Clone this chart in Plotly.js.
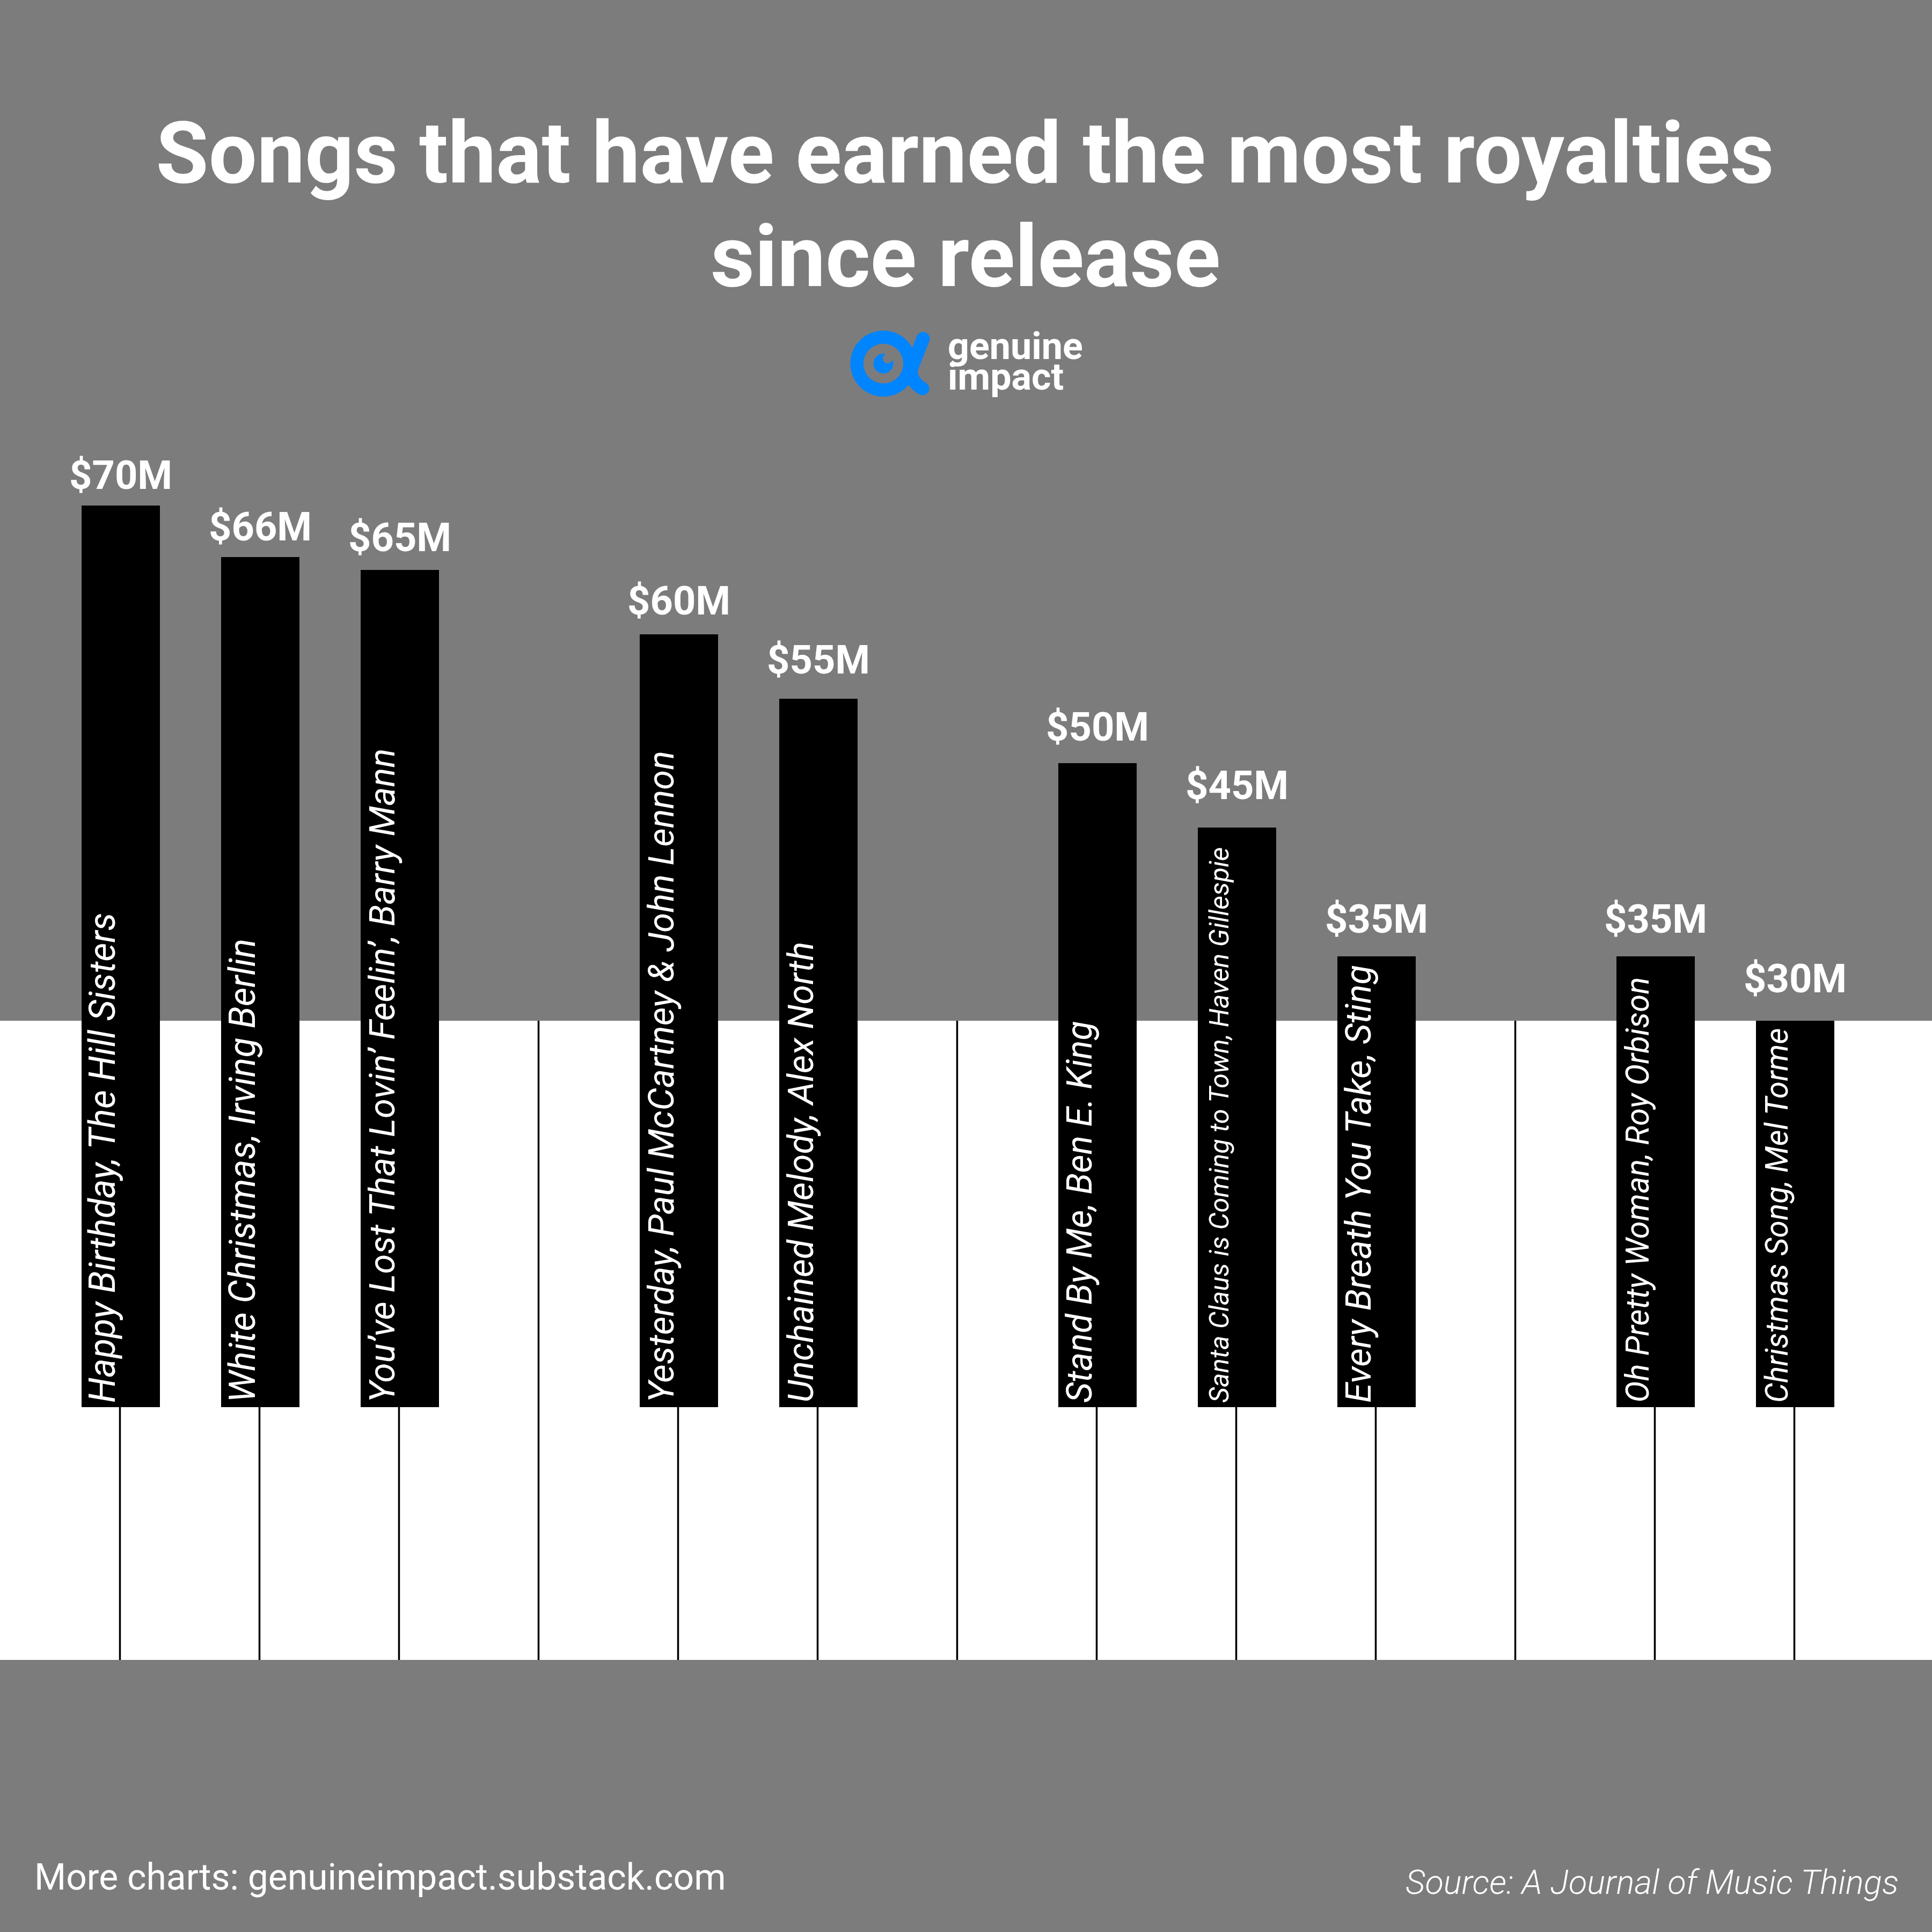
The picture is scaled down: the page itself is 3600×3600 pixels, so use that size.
<!DOCTYPE html>
<html>
<head>
<meta charset="utf-8">
<script src="https://cdn.plot.ly/plotly-3.0.1.min.js"></script>
<style>html,body{margin:0;padding:0;background:#7c7c7c}</style>
</head>
<body>
<div id="chart" style="width:3600px;height:3600px"></div>
<script>
// ---- data ----
const songs = [
  "Happy Birthday, The Hill Sisters",
  "White Christmas, Irving Berlin",
  "You’ve Lost That Lovin’ Feelin’, Barry Mann",
  "Yesterday, Paul McCartney & John Lennon",
  "Unchained Melody, Alex North",
  "Stand By Me, Ben E. King",
  "Santa Claus is Coming to Town, Haven Gillespie",
  "Every Breath You Take, Sting",
  "Oh Pretty Woman, Roy Orbison",
  "Christmas Song, Mel Torme"
];
const royalties = [70, 66, 65, 60, 55, 50, 45, 35, 35, 30];
const keySlots = [0, 1, 2, 4, 5, 7, 8, 9, 11, 12];
const keyLines = [0, 1, 2, 3, 4, 5, 6, 7, 8, 9, 10, 11, 12];

// ---- styles ----
const GREY = "#7c7c7c", BLUE = "#0085ff", WHITE = "#ffffff";
const FONT = "Roboto";
const labelSizes = [68, 68.3, 67, 66.9, 66.5, 66.3, 50.5, 67, 60.1, 58.6];
const valueGaps = [11, 11, 15, 17, 27, 22, 33, 24, 24, 33];
const S = 3600;
const px = v => v / S;
const py = v => 1 - v / S;

// data-space window: 24 px per $M, zero line at 2622 px; keys 260 px apart
const yRange = [(2622 - 3600) / 24, 2622 / 24];
const xRange = [-225 / 260, (3600 - 225) / 260];
const whiteTop = 30, whiteBottom = -19.62;
const lineOffset = -1.5 / 260;

const bars = {
  type: "bar",
  x: keySlots,
  y: royalties,
  width: 146 / 260,
  marker: { color: "#000000", line: { width: 0 } },
  hoverinfo: "skip"
};

const shapes = [
  { type: "rect", layer: "below", xref: "paper", yref: "y", x0: 0, x1: 1, y0: whiteBottom, y1: whiteTop,
    fillcolor: WHITE, line: { width: 0 } }
].concat(keyLines.map(k => ({
  type: "line", layer: "below", xref: "x", yref: "y", x0: k + lineOffset, x1: k + lineOffset, y0: whiteBottom, y1: whiteTop,
  line: { color: "#000000", width: 3.5 }
})));

// logo
function ellipsePath(cx, cy, r) {
  const x0 = px(cx - r), x1 = px(cx + r), y = py(cy), ry = r / S, rx = r / S, k = 0.5523;
  const X = px(cx), t = py(cy - r), b = py(cy + r);
  return `M${x0},${y} C${x0},${y + ry * k} ${X - rx * k},${t} ${X},${t} C${X + rx * k},${t} ${x1},${y + ry * k} ${x1},${y} ` +
         `C${x1},${y - ry * k} ${X + rx * k},${b} ${X},${b} C${X - rx * k},${b} ${x0},${y - ry * k} ${x0},${y} Z`;
}
function paperShape(path, fill, stroke, w) {
  return { type: "path", xref: "paper", yref: "paper", path,
    fillcolor: fill, line: stroke ? { color: stroke, width: w } : { width: 0 } };
}
shapes.push(paperShape(`M${px(1720)},${py(631)} L${px(1697)},${py(690)} Q${px(1698)},${py(712)} ${px(1719)},${py(724)}`, "rgba(0,0,0,0)", BLUE, 25));
shapes.push(paperShape(ellipsePath(1720, 631, 12.5), BLUE));
shapes.push(paperShape(ellipsePath(1719, 724, 12.5), BLUE));
shapes.push(paperShape(ellipsePath(1646, 677.5, 61.5), BLUE));
shapes.push(paperShape(ellipsePath(1646, 677.5, 37), GREY));
shapes.push(paperShape(ellipsePath(1646, 677.5, 18.5), BLUE));
shapes.push(paperShape(ellipsePath(1654, 668, 9), GREY));

const annotations = [];
songs.forEach((s, i) => {
  annotations.push({
    text: s, x: keySlots[i], y: 0, xref: "x", yref: "y", showarrow: false,
    xanchor: "center", yanchor: "bottom", textangle: -90, xshift: -34, yshift: 6,
    font: { family: FONT, size: labelSizes[i], color: WHITE, style: "italic", weight: 400 }
  });
  annotations.push({
    text: "$" + royalties[i] + "M", x: keySlots[i], y: royalties[i], xref: "x", yref: "y", showarrow: false,
    xanchor: "center", yanchor: "bottom", yshift: valueGaps[i],
    font: { family: FONT, size: 74, color: WHITE, weight: 700 }
  });
});
function note(text, x, y, anchor, size, opts) {
  annotations.push(Object.assign({
    text, x: px(x), y: py(y), xref: "paper", yref: "paper", showarrow: false,
    xanchor: anchor, yanchor: "bottom",
    font: Object.assign({ family: FONT, size, color: WHITE }, opts || {})
  }));
}
note("since release", 1799, 574, "center", 160, { weight: 700 });
note("genuine", 1764, 688, "left", 70, { weight: 700 });
note("impact", 1764, 745, "left", 70, { weight: 700 });
note("More charts: genuineimpact.substack.com", 62, 3540, "left", 67.8, {});
note("Source: A Journal of Music Things", 3540, 3546, "right", 63.3, { style: "italic", weight: 300 });

const layout = {
  width: S, height: S,
  margin: { l: 0, r: 0, t: 0, b: 0, pad: 0 },
  paper_bgcolor: GREY, plot_bgcolor: "rgba(0,0,0,0)",
  showlegend: false,
  title: {
    text: "Songs that have earned the most royalties",
    font: { family: FONT, size: 159.5, color: WHITE, weight: 700 },
    x: 0.4995, xanchor: "center", xref: "paper",
    y: 0.921, yanchor: "middle", yref: "paper"
  },
  xaxis: { range: xRange, visible: false, fixedrange: true },
  yaxis: { range: yRange, visible: false, fixedrange: true },
  shapes, annotations
};
Plotly.newPlot("chart", [bars], layout, { displayModeBar: false, staticPlot: true });
</script>
</body>
</html>
